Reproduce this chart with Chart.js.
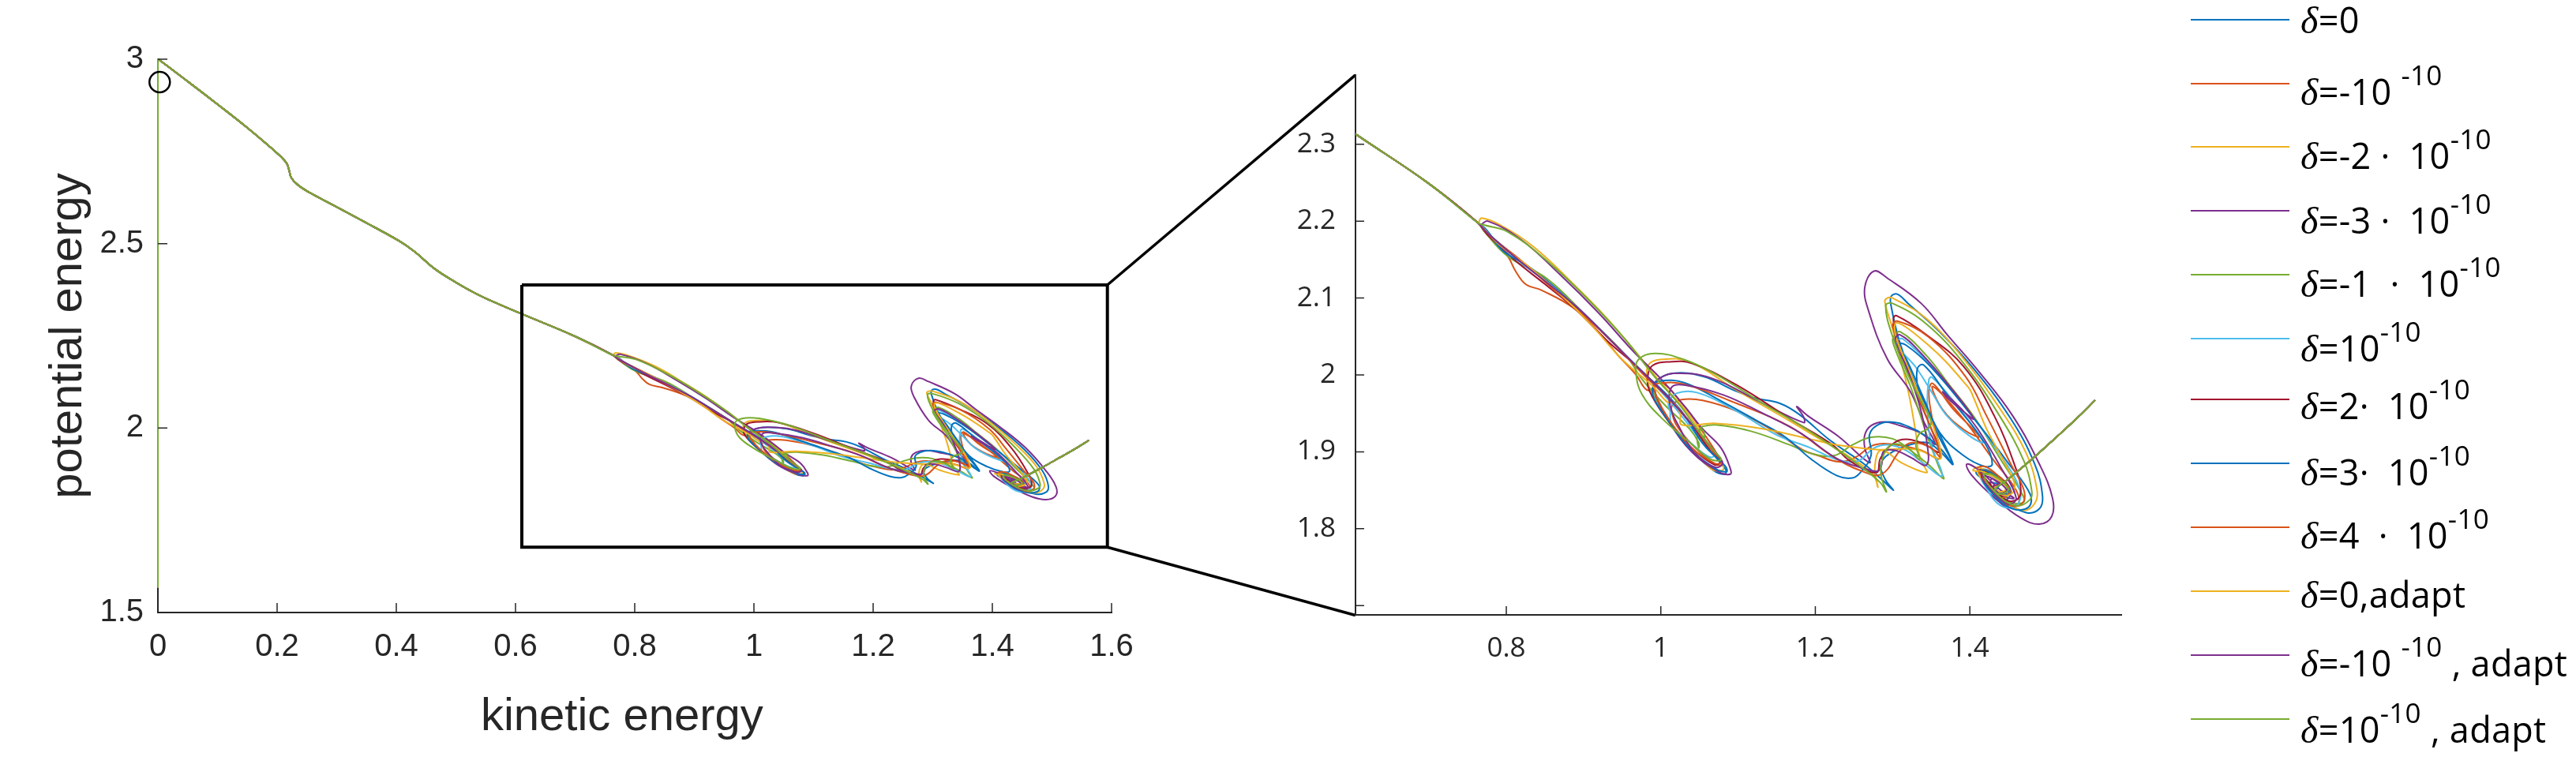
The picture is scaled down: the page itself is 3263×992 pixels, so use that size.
<!DOCTYPE html>
<html>
<head>
<meta charset="utf-8">
<title>Energy trajectories</title>
<script src="https://cdn.jsdelivr.net/npm/chart.js@4"></script>
<style>
    html, body { margin: 0; padding: 0; background: #fff; width: 3263px; height: 992px; overflow: hidden; }
    canvas { position: absolute; top: 0; }
    #overview { left: 0; }
    #detail { left: 1600px; }
    .swatch { position: absolute; left: 2775px; width: 125px; height: 2px; }
    .entry { position: absolute; left: 2914px; font: 45px/50px "Open Sans", sans-serif; letter-spacing: 0.3px; color: #000; white-space: pre; }
    .entry i { font-family: "Liberation Serif", serif; font-size: 48px; }
    .entry sup { font-size: 35px; line-height: 0; vertical-align: 25px; }
</style>
</head>
<body>
<canvas id="overview" width="3263" height="992"></canvas>
<canvas id="detail" width="1100" height="992"></canvas>
<div id="legend"></div>
<script>
// Values as [kinetic, potential]
const trunk = [[0,1.568],[0,3],[.053,2.936],[.107,2.869],[.147,2.818],[.181,2.772],[.208,2.733],[.216,2.718],[.22,2.7],[.224,2.678],[.235,2.659],[.255,2.638],[.296,2.603],[.343,2.562],[.404,2.508],[.431,2.478],[.465,2.431],[.499,2.396],[.532,2.366],[.566,2.34],[.611,2.309],[.698,2.25],[.763,2.198]];
const tail = [[1.445,1.861],[1.481,1.891],[1.513,1.92],[1.54,1.945],[1.562,1.967]];

const deltaZero = [[.772,2.188],[.81,2.155],[.85,2.125],[.89,2.09],[.93,2.05],[.97,2.01],[1.01,1.972],[1.04,1.935],[1.065,1.9],[1.084,1.877],[1.083,1.871],[1.068,1.876],[1.037,1.905],[1.006,1.946],[.991,1.978],[.992,1.99],[1.015,2.002],[1.055,1.998],[1.095,1.98],[1.122,1.97],[1.154,1.963],[1.18,1.948],[1.219,1.915],[1.262,1.885],[1.286,1.864],[1.301,1.85],[1.29,1.865],[1.285,1.885],[1.3,1.9],[1.325,1.91],[1.345,1.912],[1.362,1.9],[1.378,1.884],[1.36,1.92],[1.335,1.975],[1.31,2.04],[1.298,2.09],[1.298,2.102],[1.306,2.105],[1.32,2.093],[1.361,2.056],[1.405,2.008],[1.453,1.943],[1.484,1.884],[1.494,1.843],[1.49,1.826],[1.473,1.821],[1.446,1.836],[1.42,1.862],[1.408,1.873],[1.42,1.877],[1.44,1.866],[1.453,1.85],[1.447,1.838],[1.43,1.846],[1.425,1.86],[1.44,1.858]];
const deltaMinus1 = [[.782,2.176],[.802,2.154],[.812,2.135],[.825,2.118],[.846,2.11],[.887,2.087],[.922,2.053],[.945,2.025],[.968,2],[.979,1.983],[.986,1.98],[.998,1.992],[1.03,1.96],[1.055,1.925],[1.076,1.892],[1.08,1.884],[1.07,1.884],[1.04,1.91],[1.02,1.935],[1.014,1.953],[1.015,1.961],[1.027,1.968],[1.054,1.967],[1.098,1.953],[1.15,1.925],[1.183,1.903],[1.204,1.895],[1.231,1.887],[1.252,1.893],[1.276,1.909],[1.306,1.909],[1.337,1.902],[1.361,1.892],[1.35,1.95],[1.347,1.98],[1.352,1.989],[1.378,1.956],[1.412,1.92],[1.392,1.929],[1.364,1.956],[1.352,1.985],[1.39,1.945],[1.43,1.89],[1.46,1.85],[1.462,1.832],[1.44,1.835],[1.415,1.87],[1.425,1.875],[1.45,1.855],[1.44,1.845],[1.43,1.855],[1.44,1.858]];
const deltaMinus2 = [[.764,2.198],[.768,2.204],[.792,2.195],[.836,2.166],[.887,2.118],[.928,2.076],[.969,2.028],[1,1.99],[1.035,1.95],[1.06,1.912],[1.08,1.883],[1.08,1.876],[1.065,1.878],[1.035,1.91],[1.003,1.95],[.985,1.985],[.982,1.994],[.984,2.013],[.999,2.02],[1.037,2.017],[1.098,1.98],[1.167,1.94],[1.2,1.92],[1.245,1.893],[1.275,1.87],[1.281,1.854],[1.277,1.88],[1.285,1.902],[1.313,1.885],[1.344,1.873],[1.34,1.883],[1.334,1.898],[1.33,1.925],[1.32,1.98],[1.3,2.06],[1.29,2.095],[1.293,2.1],[1.3,2.1],[1.344,2.073],[1.392,2.021],[1.439,1.956],[1.473,1.898],[1.487,1.85],[1.484,1.833],[1.47,1.824],[1.446,1.835],[1.41,1.874],[1.404,1.876],[1.41,1.88],[1.43,1.87],[1.45,1.85],[1.44,1.84],[1.43,1.85],[1.44,1.858]];
const deltaMinus3 = [[.766,2.195],[.776,2.2],[.819,2.176],[.87,2.13],[.92,2.08],[.965,2.03],[1,1.995],[1.03,1.96],[1.054,1.93],[1.078,1.905],[1.09,1.878],[1.09,1.871],[1.075,1.874],[1.04,1.9],[1.01,1.94],[.995,1.97],[.992,1.985],[.996,1.994],[1.017,2.002],[1.065,1.996],[1.132,1.963],[1.185,1.938],[1.185,1.945],[1.176,1.959],[1.19,1.947],[1.23,1.92],[1.27,1.886],[1.264,1.905],[1.264,1.922],[1.272,1.934],[1.289,1.939],[1.31,1.934],[1.337,1.924],[1.355,1.91],[1.34,1.94],[1.322,1.98],[1.293,2.021],[1.269,2.083],[1.264,2.114],[1.276,2.135],[1.293,2.126],[1.337,2.093],[1.371,2.052],[1.412,2.004],[1.456,1.946],[1.49,1.884],[1.507,1.84],[1.506,1.816],[1.49,1.806],[1.466,1.814],[1.432,1.84],[1.402,1.87],[1.396,1.884],[1.412,1.876],[1.44,1.85],[1.457,1.84],[1.45,1.84],[1.43,1.85],[1.428,1.865],[1.44,1.858]];
const deltaMinus1b = [[.771,2.187],[.802,2.154],[.853,2.125],[.904,2.076],[.955,2.025],[.976,1.994],[1.006,1.96],[1.037,1.93],[1.049,1.912],[1.049,1.905],[1.047,1.919],[1.051,1.93],[1.056,1.925],[1.055,1.915],[1.05,1.916],[1.051,1.93],[1.054,1.933],[1.071,1.935],[1.116,1.927],[1.167,1.909],[1.194,1.898],[1.224,1.895],[1.248,1.909],[1.272,1.919],[1.3,1.917],[1.323,1.902],[1.347,1.883],[1.366,1.865],[1.36,1.88],[1.345,1.92],[1.325,1.98],[1.301,2.04],[1.301,2.049],[1.31,2.056],[1.344,2.025],[1.375,1.985],[1.405,1.946],[1.44,1.89],[1.465,1.85],[1.47,1.835],[1.45,1.835],[1.425,1.855],[1.415,1.87],[1.425,1.87],[1.45,1.855],[1.445,1.84],[1.43,1.85],[1.44,1.858]];
const deltaPlus1 = [[.78,2.18],[.82,2.145],[.86,2.115],[.9,2.08],[.94,2.04],[.98,2],[1.012,1.965],[1.04,1.93],[1.062,1.902],[1.071,1.897],[1.064,1.893],[1.044,1.907],[1.014,1.936],[1.012,1.953],[1.01,1.963],[1.02,1.976],[1.047,1.977],[1.098,1.953],[1.15,1.922],[1.194,1.905],[1.228,1.89],[1.255,1.888],[1.276,1.905],[1.296,1.909],[1.317,1.902],[1.34,1.885],[1.364,1.869],[1.35,1.91],[1.345,1.96],[1.347,1.994],[1.351,1.997],[1.378,1.967],[1.417,1.913],[1.402,1.919],[1.371,1.946],[1.351,1.977],[1.33,2.01],[1.305,2.04],[1.313,2.047],[1.36,2],[1.4,1.95],[1.44,1.895],[1.465,1.85],[1.46,1.83],[1.44,1.83],[1.42,1.855],[1.412,1.875],[1.43,1.868],[1.45,1.85],[1.44,1.845],[1.43,1.85],[1.44,1.858]];
const deltaPlus2 = [[.775,2.183],[.81,2.15],[.85,2.118],[.89,2.085],[.93,2.045],[.97,2.01],[1.01,1.97],[1.04,1.935],[1.065,1.9],[1.077,1.888],[1.07,1.883],[1.04,1.905],[1.006,1.945],[.985,1.98],[.983,1.997],[.989,2.012],[1.01,2.017],[1.04,2.015],[1.098,1.987],[1.167,1.943],[1.221,1.91],[1.245,1.888],[1.279,1.873],[1.284,1.891],[1.296,1.907],[1.313,1.916],[1.337,1.912],[1.361,1.9],[1.35,1.93],[1.325,1.99],[1.305,2.05],[1.301,2.073],[1.305,2.077],[1.344,2.052],[1.392,2.011],[1.432,1.946],[1.46,1.877],[1.466,1.85],[1.461,1.838],[1.446,1.838],[1.42,1.865],[1.412,1.876],[1.43,1.87],[1.45,1.855],[1.44,1.845],[1.43,1.852],[1.44,1.858]];
const deltaPlus3 = [[.775,2.188],[.795,2.162],[.83,2.14],[.87,2.105],[.91,2.07],[.95,2.03],[.99,1.99],[1.025,1.955],[1.055,1.91],[1.08,1.885],[1.085,1.879],[1.085,1.874],[1.071,1.878],[1.037,1.905],[1.006,1.946],[.991,1.97],[.99,1.985],[.998,1.992],[1.03,1.99],[1.08,1.965],[1.125,1.94],[1.16,1.92],[1.194,1.891],[1.228,1.869],[1.248,1.866],[1.259,1.874],[1.272,1.895],[1.27,1.922],[1.279,1.934],[1.296,1.939],[1.32,1.933],[1.344,1.92],[1.364,1.902],[1.378,1.884],[1.36,1.925],[1.334,1.98],[1.332,2.008],[1.34,2.013],[1.37,1.975],[1.419,1.912],[1.429,1.884],[1.419,1.881],[1.392,1.895],[1.361,1.925],[1.34,1.97],[1.318,2.02],[1.306,2.04],[1.317,2.039],[1.35,2.01],[1.4,1.95],[1.45,1.885],[1.478,1.845],[1.476,1.828],[1.455,1.826],[1.43,1.845],[1.412,1.872],[1.42,1.876],[1.445,1.86],[1.45,1.845],[1.435,1.85],[1.44,1.858]];
const deltaPlus4 = [[.78,2.18],[.82,2.148],[.86,2.112],[.9,2.078],[.94,2.04],[.98,1.998],[1.015,1.965],[1.045,1.93],[1.068,1.9],[1.079,1.887],[1.07,1.885],[1.04,1.905],[1.012,1.94],[.995,1.97],[.992,1.985],[.996,1.989],[1.03,1.988],[1.098,1.963],[1.167,1.933],[1.221,1.895],[1.26,1.875],[1.286,1.871],[1.31,1.902],[1.325,1.912],[1.35,1.905],[1.362,1.893],[1.35,1.93],[1.328,1.985],[1.3,2.063],[1.306,2.07],[1.347,2.049],[1.395,1.997],[1.422,1.946],[1.453,1.884],[1.47,1.85],[1.468,1.833],[1.453,1.83],[1.43,1.85],[1.41,1.878],[1.422,1.88],[1.445,1.86],[1.452,1.848],[1.44,1.84],[1.43,1.852],[1.44,1.858]];
const adaptZero = [[.79,2.17],[.83,2.14],[.87,2.105],[.91,2.065],[.95,2.02],[.99,1.985],[1.008,1.965],[1.017,1.963],[1.025,1.95],[1.027,1.935],[1.071,1.937],[1.132,1.93],[1.2,1.915],[1.228,1.909],[1.279,1.903],[1.33,1.903],[1.361,1.891],[1.363,1.898],[1.35,1.94],[1.33,1.985],[1.303,2.066],[1.345,2.04],[1.398,1.984],[1.405,1.97],[1.422,1.929],[1.446,1.884],[1.458,1.857],[1.453,1.845],[1.44,1.845],[1.42,1.86],[1.41,1.875],[1.43,1.868],[1.447,1.853],[1.44,1.848],[1.432,1.853],[1.44,1.858]];
const adaptMinus1 = [[.775,2.185],[.815,2.15],[.855,2.118],[.895,2.085],[.935,2.045],[.975,2.005],[1.01,1.97],[1.045,1.93],[1.07,1.9],[1.08,1.885],[1.07,1.88],[1.045,1.897],[1.025,1.93],[1.012,1.96],[1.014,1.984],[1.03,1.987],[1.081,1.974],[1.132,1.95],[1.18,1.925],[1.23,1.89],[1.265,1.878],[1.281,1.875],[1.286,1.884],[1.288,1.9],[1.303,1.902],[1.323,1.893],[1.344,1.883],[1.344,1.915],[1.335,1.96],[1.318,2.01],[1.303,2.045],[1.31,2.052],[1.337,2.028],[1.378,1.98],[1.405,1.943],[1.391,1.953],[1.371,1.97],[1.365,1.978],[1.39,1.955],[1.41,1.93],[1.44,1.88],[1.46,1.84],[1.45,1.832],[1.43,1.848],[1.415,1.868],[1.43,1.865],[1.448,1.85],[1.44,1.845],[1.43,1.855],[1.44,1.858]];
const adaptPlus1 = [[.771,2.195],[.802,2.186],[.853,2.148],[.904,2.1],[.955,2.045],[.99,2],[1.025,1.96],[1.05,1.925],[1.07,1.9],[1.078,1.89],[1.065,1.89],[1.04,1.91],[1,1.945],[.976,1.974],[.968,2.001],[.971,2.02],[.993,2.028],[1.03,2.02],[1.071,2.001],[1.132,1.963],[1.18,1.935],[1.225,1.905],[1.26,1.88],[1.284,1.86],[1.292,1.848],[1.285,1.87],[1.288,1.895],[1.3,1.91],[1.32,1.905],[1.335,1.89],[1.33,1.91],[1.335,1.924],[1.344,1.929],[1.35,1.938],[1.34,1.96],[1.32,2],[1.3,2.05],[1.291,2.09],[1.3,2.093],[1.344,2.066],[1.392,2.015],[1.439,1.946],[1.47,1.888],[1.48,1.85],[1.478,1.838],[1.46,1.83],[1.435,1.845],[1.418,1.87],[1.43,1.87],[1.45,1.852],[1.44,1.845],[1.432,1.85],[1.44,1.858]];

const seriesData = [deltaZero, deltaMinus1, deltaMinus2, deltaMinus3, deltaMinus1b, deltaPlus1, deltaPlus2, deltaPlus3, deltaPlus4, adaptZero, adaptMinus1, adaptPlus1];
const seriesColors = ['#0072BD', '#D95319', '#EDB120', '#7E2F8E', '#77AC30', '#4DBEEE', '#A2142F', '#0072BD', '#D95319', '#EDB120', '#7E2F8E', '#77AC30'];
const seriesLabels = [
    '=0',
    '=-10 <sup>-10</sup>',
    '=-2 \u00b7  10<sup>-10</sup>',
    '=-3 \u00b7  10<sup>-10</sup>',
    '=-1  \u00b7  10<sup>-10</sup>',
    '=10<sup>-10</sup>',
    '=2\u00b7  10<sup>-10</sup>',
    '=3\u00b7  10<sup>-10</sup>',
    '=4  \u00b7  10<sup>-10</sup>',
    '=0,adapt',
    '=-10 <sup>-10</sup> , adapt',
    '=10<sup>-10</sup> , adapt'
];

// Start marker, zoom box and the two lines joining it to the detail axes
const startMarker = [[.003, 2.938]];
const zoomBox = [[.6106,2.388],[1.593,2.388],[1.593,1.677],[.6106,1.677],[.6106,2.388]];
const joinTop = [[1.593,2.388],[2.009,2.957]];
const joinBottom = [[1.593,1.677],[2.009,1.4925]];

const overviewXTicks = [0, 0.2, 0.4, 0.6, 0.8, 1, 1.2, 1.4, 1.6];
const overviewYTicks = [1.5, 2, 2.5, 3];
const detailXTicks = [0.8, 1, 1.2, 1.4];
const detailYTicks = [1.7, 1.8, 1.9, 2, 2.1, 2.2, 2.3];
const detailYLabels = ['', '1.8', '1.9', '2', '2.1', '2.2', '2.3'];

const axisColor = '#262626';

function toPoints(list) {
    return list.map(p => ({ x: p[0], y: p[1] }));
}

function curveDatasets(lineWidth) {
    return seriesData.map((s, i) => ({
        label: 'series ' + (i + 1),
        data: toPoints([...trunk, ...s, ...tail]),
        borderColor: seriesColors[i],
        borderWidth: lineWidth,
        showLine: true,
        pointRadius: 0,
        tension: 0.4,
        order: 20 - i
    }));
}

function blackLine(label, list, width) {
    return { label, data: toPoints(list), borderColor: '#000', borderWidth: width, showLine: true, pointRadius: 0, tension: 0, clip: false, order: 0 };
}

// MATLAB style ticks point into the plot
const inwardTicks = {
    id: 'inwardTicks',
    afterDraw(chart, args, opts) {
        const { ctx, scales, chartArea } = chart;
        ctx.save();
        ctx.strokeStyle = axisColor;
        ctx.lineWidth = 1.5;
        ctx.beginPath();
        scales.x.ticks.forEach(t => {
            const px = scales.x.getPixelForValue(t.value);
            ctx.moveTo(px, chartArea.bottom);
            ctx.lineTo(px, chartArea.bottom - opts.size);
        });
        scales.y.ticks.forEach(t => {
            const py = scales.y.getPixelForValue(t.value);
            ctx.moveTo(chartArea.left, py);
            ctx.lineTo(chartArea.left + opts.size, py);
        });
        ctx.stroke();
        ctx.restore();
    }
};

function setTicks(values) {
    return scale => { scale.ticks = values.map(value => ({ value })); };
}

// Overview panel
new Chart(document.getElementById('overview'), {
    type: 'scatter',
    data: {
        datasets: [
            ...curveDatasets(2).map(d => ({ ...d, clip: false })),
            blackLine('zoom box', zoomBox, 4),
            blackLine('join top', joinTop, 3.5),
            blackLine('join bottom', joinBottom, 3.5),
            { label: 'start', data: toPoints(startMarker), pointRadius: 13, pointBorderWidth: 2.5, pointBorderColor: '#000', pointBackgroundColor: 'transparent', showLine: false, clip: false, order: 0 }
        ]
    },
    options: {
        responsive: false,
        animation: false,
        layout: { padding: { top: 75, right: 1855 } },
        plugins: { legend: { display: false }, tooltip: { enabled: false }, inwardTicks: { size: 12 } },
        scales: {
            x: {
                type: 'linear',
                min: 0,
                max: 1.6,
                afterBuildTicks: setTicks(overviewXTicks),
                afterFit: s => { s.height = 216; },
                grid: { display: false, drawTicks: false },
                border: { display: true, color: axisColor, width: 2 },
                ticks: { autoSkip: false, maxRotation: 0, padding: 20, color: axisColor, font: { family: 'Liberation Sans', size: 40 }, callback: v => String(v) },
                title: { display: true, text: 'kinetic energy  ', color: axisColor, font: { family: 'Liberation Sans', size: 58, lineHeight: 1.2 }, padding: { top: 0, bottom: 48 } }
            },
            y: {
                type: 'linear',
                min: 1.5,
                max: 3,
                afterBuildTicks: setTicks(overviewYTicks),
                afterFit: s => { s.width = 200; },
                grid: { display: false, drawTicks: false },
                border: { display: true, color: axisColor, width: 2 },
                ticks: { autoSkip: false, padding: 18, color: axisColor, font: { family: 'Liberation Sans', size: 40 }, callback: v => String(v) },
                title: { display: true, text: 'potential energy', color: axisColor, font: { family: 'Liberation Sans', size: 58, lineHeight: 1.2 }, padding: { top: 52, bottom: 0 } }
            }
        }
    },
    plugins: [inwardTicks]
});

// Detail panel
new Chart(document.getElementById('detail'), {
    type: 'scatter',
    data: { datasets: curveDatasets(2) },
    options: {
        responsive: false,
        animation: false,
        layout: { padding: { top: 95, right: 13 } },
        plugins: { legend: { display: false }, tooltip: { enabled: false }, inwardTicks: { size: 11 } },
        scales: {
            x: {
                type: 'linear',
                min: 0.6048,
                max: 1.596,
                afterBuildTicks: setTicks(detailXTicks),
                afterFit: s => { s.height = 213; },
                grid: { display: false, drawTicks: false },
                border: { display: true, color: axisColor, width: 2 },
                ticks: { autoSkip: false, maxRotation: 0, padding: 22, color: axisColor, font: { family: 'Open Sans', size: 35 }, callback: v => String(v) },
            },
            y: {
                type: 'linear',
                min: 1.688,
                max: 2.39,
                afterBuildTicks: setTicks(detailYTicks),
                afterFit: s => { s.width = 117; },
                grid: { display: false, drawTicks: false },
                border: { display: true, color: axisColor, width: 2 },
                ticks: { autoSkip: false, padding: 25, color: axisColor, font: { family: 'Open Sans', size: 35 }, callback: v => detailYLabels[detailYTicks.indexOf(v)] }
            }
        }
    },
    plugins: [inwardTicks]
});

// Legend has superscripts, so it is plain HTML
const legendLineY = [25, 106, 186, 267, 348, 429, 506, 587, 668, 749, 830, 911];
const legendBaseY = [43, 134, 215, 297, 377, 459, 532, 616, 696, 771, 858, 942];
const legend = document.getElementById('legend');
seriesLabels.forEach((text, i) => {
    const line = document.createElement('div');
    line.className = 'swatch';
    line.style.top = (legendLineY[i] - 1) + 'px';
    line.style.background = seriesColors[i];
    legend.appendChild(line);

    const entry = document.createElement('div');
    entry.className = 'entry';
    entry.style.top = (legendBaseY[i] - 43) + 'px';
    entry.innerHTML = '<i>\u03b4</i>' + text;
    legend.appendChild(entry);
});
</script>
</body>
</html>
